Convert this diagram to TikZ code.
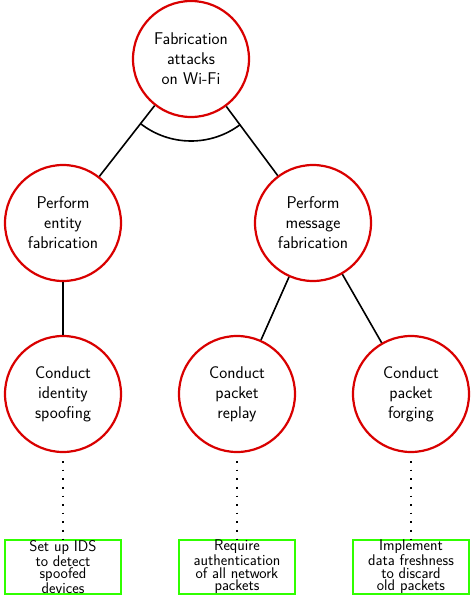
\documentclass[tikz,border=0pt]{standalone}
\usepackage{fontspec}
\setmainfont{Latin Modern Sans}
\begin{document}
\begin{tikzpicture}[x=1pt,y=-1pt,
  goal/.style={circle,draw=red!85!black,line width=2.2pt,minimum size=116pt,inner sep=0pt,align=center,font=\fontsize{17}{20}\selectfont},
  ctr/.style={draw=green!75!lime,line width=2pt,minimum width=116pt,minimum height=52pt,inner xsep=1pt,inner ysep=0pt,align=center,font=\fontsize{15.5}{12.6}\selectfont},
  edge/.style={line width=1.6pt},
  dots/.style={line width=1.6pt,dash pattern=on 1.6pt off 7pt}]
\useasboundingbox (0,0) rectangle (474,598);
\node[goal] (top) at (191,59) {Fabrication\\attacks\\on Wi-Fi};
\node[goal] (ent) at (63,223) {Perform\\entity\\fabrication};
\node[goal] (msg) at (313,223) {Perform\\message\\fabrication};
\node[goal] (id) at (63,394) {Conduct\\identity\\spoofing};
\node[goal] (rep) at (237,394) {Conduct\\packet\\replay};
\node[goal] (forg) at (411,394) {Conduct\\packet\\forging};
\node[ctr] (c1) at (63,567) {Set up IDS\\to detect\\spoofed\\devices};
\node[ctr] (c2) at (237,567) {Require\\authentication\\of all network\\packets};
\node[ctr] (c3) at (411,567) {Implement\\data freshness\\to discard\\old packets};
\draw[edge] (top) -- (ent);
\draw[edge] (top) -- (msg);
\draw[edge] (ent) -- (id);
\draw[edge] (msg) -- (rep);
\draw[edge] (msg) -- (forg);
\draw[edge] (top.center) ++(128:82) arc[start angle=128,end angle=53,radius=82];
\draw[dots] (id.south) ++(0,8) -- (c1.north);
\draw[dots] (rep.south) ++(0,8) -- (c2.north);
\draw[dots] (forg.south) ++(0,8) -- (c3.north);
\end{tikzpicture}
\end{document}
